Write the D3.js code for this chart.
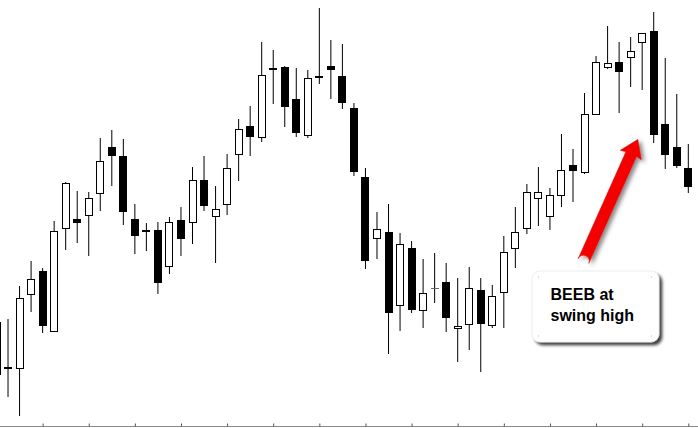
<!DOCTYPE html>
<html>
<head>
<meta charset="utf-8">
<script src="https://cdn.jsdelivr.net/npm/d3@7/dist/d3.min.js"></script>
<style>
  html, body { margin: 0; padding: 0; background: #fff; }
  svg { display: block; }
</style>
</head>
<body>
<script>
// Candle data (price points, arbitrary units)
const opens  = [55, 63, 61,135,159, 98,201,211,214,236,283,274,211,200,200,163,210,207,250,213,
                225,275,304,292,362,363,331,294,352,364,354,322,253,191,198,124,182,119,142,148,
                101,105,140,104,137,181,201,231,213,234,265,257,315,362,368,372,387,399,306,283,262];
const highs  = [115,111,144,169,162,209,248,239,238,292,300,291,226,207,208,213,223,263,274,244,
                276,311,324,388,380,364,362,360,422,390,386,327,262,218,226,197,189,171,177,167,
                152,163,152,145,194,223,246,263,242,296,281,337,374,404,388,393,397,418,372,336,286];
const lows   = [50, 33, 14,118, 97, 98,180,187,174,219,244,205,176,179,136,156,174,186,219,167,
                215,249,274,288,326,303,293,292,346,331,321,254,161,171, 76, 99,117,102,127, 98,
                 68, 80, 58,102,102,162,196,204,200,223,228,256,315,361,317,343,340,287,261,262,237];
const closes = [108, 61,132,151,104,199,247,207,232,269,274,218,194,198,147,208,191,250,224,221,
                262,301,293,355,360,323,297,352,354,360,327,258,169,201,117,186,120,137,142,112,
                104,142,106,134,178,198,238,238,235,260,259,316,368,367,358,379,397,295,275,264,243];
const tickEvery = 4;
const noteLines = ["BEEB at", "swing high"];

const W = 698, H = 428;
const svg = d3.select("body").append("svg").attr("width", W).attr("height", H);

const defs = svg.append("defs");
const sh = defs.append("filter").attr("id", "shadow").attr("x", "-30%").attr("y", "-30%").attr("width", "160%").attr("height", "160%");
sh.append("feDropShadow").attr("dx", 3).attr("dy", 3).attr("stdDeviation", 1.6)
  .attr("flood-color", "#000").attr("flood-opacity", 0.75);
const sh2 = defs.append("filter").attr("id", "ashadow").attr("x", "-50%").attr("y", "-50%").attr("width", "200%").attr("height", "200%");
sh2.append("feDropShadow").attr("dx", 3).attr("dy", 2).attr("stdDeviation", 2)
  .attr("flood-color", "#555").attr("flood-opacity", 0.7);

const n = opens.length;
const idx = d3.range(n);
const x = d3.scaleLinear().domain([0, n - 1]).range([-3.5, 688.3]);
const y = d3.scaleLinear().domain([0, 430]).range([430, 0]);

// bottom axis
const axis = d3.axisBottom(x)
  .tickValues(d3.range(0, n, tickEvery))
  .tickSize(-3).tickFormat("");
const ag = svg.append("g").attr("transform", "translate(0,426.5)").call(axis);
ag.select(".domain").attr("d", `M0,0H${W}`).attr("stroke", "#8a8a8a");
ag.selectAll(".tick line").attr("stroke", "#555");

const candles = svg.append("g");
idx.forEach(i => {
  const cx = x(i);
  const o = opens[i], c = closes[i];
  const up = c > o;
  const g = candles.append("g");
  g.append("line")
    .attr("x1", cx).attr("x2", cx)
    .attr("y1", y(highs[i])).attr("y2", y(lows[i]))
    .attr("stroke", "#000").attr("stroke-width", 1);
  if (o === c) {
    g.append("line")
      .attr("x1", Math.round(cx) - 4).attr("x2", Math.round(cx) + 4)
      .attr("y1", Math.round(y(o)) + 0.5).attr("y2", Math.round(y(o)) + 0.5)
      .attr("stroke", "#666").attr("stroke-width", 1);
  } else {
    const top = Math.round(y(Math.max(o, c)));
    const bot = Math.round(y(Math.min(o, c)));
    g.append("rect")
      .attr("x", Math.round(cx) - 3.5).attr("width", 7)
      .attr("y", top + 0.5).attr("height", Math.max(1, bot - top - 1))
      .attr("fill", up ? "#fff" : "#000")
      .attr("stroke", "#000").attr("stroke-width", 1);
  }
});

// red arrow
const tail = [583.5, 261], tip = [637.8, 139.5];
const dx = tip[0] - tail[0], dy = tip[1] - tail[1];
const len = Math.hypot(dx, dy);
const ux = dx / len, uy = dy / len, px = -uy, py = ux;
const headL = 17, headW = 11.5, shaftW = 5.8;
const bx = tip[0] - ux * headL, by = tip[1] - uy * headL;
const arrowPath = d3.path();
arrowPath.moveTo(tail[0] + px * shaftW, tail[1] + py * shaftW);
arrowPath.lineTo(bx + ux * 1 + px * shaftW, by + uy * 1 + py * shaftW);
arrowPath.lineTo(bx + px * headW, by + py * headW);
arrowPath.lineTo(tip[0], tip[1]);
arrowPath.lineTo(bx - px * headW, by - py * headW);
arrowPath.lineTo(bx + ux * 1 - px * shaftW, by + uy * 1 - py * shaftW);
arrowPath.lineTo(tail[0] - px * shaftW, tail[1] - py * shaftW);
arrowPath.arc(tail[0], tail[1], shaftW, Math.atan2(-py, -px), Math.atan2(py, px), false);
arrowPath.closePath();
svg.append("path").attr("d", arrowPath.toString())
  .attr("fill", "#f50000").attr("stroke", "#e00000").attr("stroke-width", 0.6)
  .attr("stroke-linejoin", "round").attr("filter", "url(#ashadow)");

// annotation box
const box = svg.append("g");
box.append("rect")
  .attr("x", 532).attr("y", 271).attr("width", 127).attr("height", 71)
  .attr("rx", 8).attr("ry", 8)
  .attr("fill", "#fff").attr("stroke", "#e2e2e2").attr("stroke-width", 0.6)
  .attr("filter", "url(#shadow)");
[[538.5, 277], [651.5, 277], [538.5, 336], [651.5, 336]].forEach(p => {
  box.append("circle").attr("cx", p[0]).attr("cy", p[1]).attr("r", 0.7).attr("fill", "#c8c8c8");
});
box.selectAll("text.note").data(noteLines).enter().append("text")
  .attr("class", "note")
  .attr("x", 550.5).attr("y", (d, k) => 299.5 + k * 21)
  .attr("font-family", "'Liberation Sans', Arial, sans-serif")
  .attr("font-weight", "bold").attr("font-size", 16)
  .attr("fill", "#000")
  .text(d => d);
</script>
</body>
</html>
